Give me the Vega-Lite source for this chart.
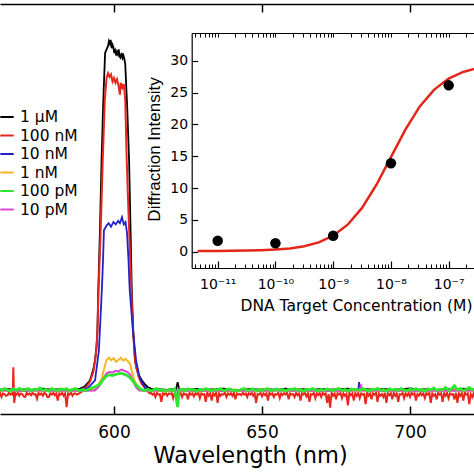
{
"$schema": "https://vega.github.io/schema/vega-lite/v6.json",
"width": 474, "height": 410,
"autosize": {"type": "none"},
"padding": {"left": 0, "top": 4, "right": 0, "bottom": 60},
"background": "white",
"config": {
  "view": {"stroke": null},
  "axis": {"grid": false, "domainColor": "#000", "tickColor": "#000", "labelColor": "#000", "titleColor": "#000", "labelFont": "DejaVu Sans", "titleFont": "DejaVu Sans", "titleFontWeight": "normal", "labelOverlap": false, "labelFlush": false}
},
"datasets": {
"k": [{"w":561.5,"v":0.12},{"w":564,"v":0.18},{"w":567,"v":0.08},{"w":570,"v":0.15},{"w":573,"v":0.1},{"w":576,"v":0.2},{"w":579,"v":0.12},{"w":582,"v":0.16},{"w":585,"v":0.1},{"w":587,"v":0.15},{"w":588.5,"v":0.2},{"w":590,"v":0.35},{"w":591.9,"v":0.9},{"w":593,"v":1.8},{"w":593.6,"v":2.6},{"w":594.1,"v":3.8},{"w":594.4,"v":5.1},{"w":594.7,"v":8.5},{"w":595.3,"v":13.9},{"w":595.8,"v":19.4},{"w":596.4,"v":24.5},{"w":597,"v":28.4},{"w":597.5,"v":28.7},{"w":598,"v":29.0},{"w":598.3,"v":29.4},{"w":598.6,"v":29.2},{"w":598.9,"v":29.5},{"w":599.2,"v":28.8},{"w":599.5,"v":29.1},{"w":599.8,"v":28.9},{"w":600.1,"v":28.4},{"w":600.4,"v":28.6},{"w":600.7,"v":28.2},{"w":601,"v":28.5},{"w":601.3,"v":28.3},{"w":601.6,"v":28.7},{"w":601.9,"v":28.1},{"w":602.2,"v":28.0},{"w":602.6,"v":28.4},{"w":602.9,"v":28.0},{"w":603.2,"v":28.2},{"w":603.5,"v":27.9},{"w":603.8,"v":27.5},{"w":604.5,"v":23.6},{"w":605.1,"v":19.4},{"w":605.6,"v":13.5},{"w":606,"v":8.5},{"w":606.5,"v":5.1},{"w":607.1,"v":2.6},{"w":607.7,"v":1.8},{"w":608.3,"v":1.4},{"w":609.4,"v":0.9},{"w":610.5,"v":0.55},{"w":611.5,"v":0.3},{"w":612.5,"v":0.2},{"w":615,"v":0.15},{"w":618,"v":0.1},{"w":621,"v":0.2},{"w":621.5,"v":0.75},{"w":622,"v":0.15},{"w":625,"v":0.12},{"w":628,"v":0.18},{"w":631,"v":0.1},{"w":634,"v":0.15},{"w":637,"v":0.2},{"w":640,"v":0.12},{"w":643,"v":0.1},{"w":646,"v":0.18},{"w":649,"v":0.12},{"w":652,"v":0.15},{"w":655,"v":0.1},{"w":658,"v":0.2},{"w":661,"v":0.12},{"w":664,"v":0.15},{"w":667,"v":0.1},{"w":670,"v":0.18},{"w":673,"v":0.12},{"w":676,"v":0.15},{"w":679,"v":0.2},{"w":682,"v":0.1},{"w":685,"v":0.15},{"w":688,"v":0.12},{"w":691,"v":0.18},{"w":694,"v":0.1},{"w":697,"v":0.15},{"w":700,"v":0.22},{"w":703,"v":0.12},{"w":706,"v":0.15},{"w":709,"v":0.1},{"w":712,"v":0.18},{"w":715,"v":0.12},{"w":718,"v":0.2},{"w":721.6,"v":0.12}],
"r": [{"w":561,"v":-0.3},{"w":561.5,"v":-0.15},{"w":562,"v":-0.5},{"w":562.5,"v":-0.2},{"w":563,"v":-0.25},{"w":563.5,"v":-0.4},{"w":564,"v":-0.35},{"w":564.5,"v":-0.15},{"w":565,"v":-0.3},{"w":565.5,"v":-0.2},{"w":565.8,"v":-0.3},{"w":566,"v":2.0},{"w":566.3,"v":-1.0},{"w":566.7,"v":-0.2},{"w":567,"v":-0.3},{"w":567.5,"v":-0.15},{"w":568,"v":-0.4},{"w":568.5,"v":-0.2},{"w":569,"v":-0.25},{"w":569.5,"v":-0.45},{"w":570,"v":-0.5},{"w":570.5,"v":-0.15},{"w":571,"v":-0.3},{"w":571.5,"v":-0.2},{"w":572,"v":-0.35},{"w":572.5,"v":-0.15},{"w":573,"v":-0.3},{"w":573.5,"v":-0.25},{"w":574,"v":-0.65},{"w":574.5,"v":-0.15},{"w":575,"v":-0.3},{"w":575.5,"v":-0.2},{"w":576,"v":-0.4},{"w":576.5,"v":-0.15},{"w":577,"v":-0.25},{"w":577.5,"v":-0.5},{"w":578,"v":-0.5},{"w":578.5,"v":-0.2},{"w":579,"v":-0.3},{"w":579.5,"v":-0.15},{"w":580,"v":-0.35},{"w":580.5,"v":-0.2},{"w":581,"v":-0.8},{"w":581.5,"v":-0.2},{"w":582,"v":-0.3},{"w":582.5,"v":-0.15},{"w":583,"v":-0.4},{"w":583.5,"v":-0.2},{"w":584,"v":-1.35},{"w":584.5,"v":-0.2},{"w":585,"v":-0.3},{"w":585.5,"v":-0.15},{"w":586,"v":-0.4},{"w":586.5,"v":-0.2},{"w":587,"v":-0.2},{"w":587.5,"v":-0.3},{"w":588.5,"v":-0.15},{"w":590,"v":0.1},{"w":591.9,"v":0.8},{"w":593,"v":1.6},{"w":593.6,"v":2.5},{"w":594.1,"v":3.6},{"w":594.4,"v":5.0},{"w":594.8,"v":8.5},{"w":595.5,"v":13.5},{"w":596.2,"v":19.4},{"w":596.9,"v":24.5},{"w":597.5,"v":26.3},{"w":598,"v":26.7},{"w":598.5,"v":26.4},{"w":599,"v":26.6},{"w":599.5,"v":26.0},{"w":600,"v":26.3},{"w":600.5,"v":25.9},{"w":601,"v":26.2},{"w":601.5,"v":25.7},{"w":602,"v":24.9},{"w":602.3,"v":25.9},{"w":602.8,"v":25.5},{"w":603.3,"v":25.8},{"w":603.8,"v":24.5},{"w":604.3,"v":19.4},{"w":604.9,"v":15},{"w":605.5,"v":11},{"w":606,"v":7.5},{"w":606.5,"v":4.8},{"w":607.1,"v":2.5},{"w":608.3,"v":1.2},{"w":609.4,"v":0.6},{"w":611,"v":0.1},{"w":612,"v":-0.2},{"w":612.5,"v":-0.15},{"w":613,"v":-0.3},{"w":613.5,"v":-0.2},{"w":614,"v":-0.5},{"w":614.5,"v":-0.15},{"w":615,"v":-0.3},{"w":615.5,"v":-0.25},{"w":616,"v":-0.9},{"w":616.5,"v":-0.2},{"w":617,"v":-0.3},{"w":617.5,"v":-0.15},{"w":618,"v":-0.4},{"w":618.5,"v":-0.2},{"w":619,"v":-0.25},{"w":619.5,"v":-0.18},{"w":620,"v":-0.6},{"w":620.5,"v":-0.15},{"w":621,"v":-0.3},{"w":621.5,"v":-0.2},{"w":622,"v":-0.35},{"w":622.5,"v":-0.15},{"w":623,"v":-0.5},{"w":623.5,"v":-0.2},{"w":624,"v":-0.3},{"w":624.5,"v":-0.25},{"w":625,"v":-0.7},{"w":625.5,"v":-0.15},{"w":626,"v":-0.3},{"w":626.5,"v":-0.2},{"w":627,"v":-0.45},{"w":627.5,"v":-0.18},{"w":628,"v":-0.3},{"w":628.5,"v":-0.15},{"w":629,"v":-0.6},{"w":629.5,"v":-0.2},{"w":630,"v":-0.3},{"w":630.5,"v":-0.25},{"w":631,"v":-0.9},{"w":631.5,"v":-0.15},{"w":632,"v":-0.4},{"w":632.5,"v":-0.2},{"w":633,"v":-0.8},{"w":633.5,"v":-0.18},{"w":634,"v":-0.35},{"w":634.5,"v":-0.15},{"w":635,"v":-1.0},{"w":635.5,"v":-0.2},{"w":636,"v":-0.4},{"w":636.5,"v":-0.25},{"w":637,"v":-0.3},{"w":637.5,"v":-0.15},{"w":638,"v":-0.5},{"w":638.5,"v":-0.2},{"w":639,"v":-0.3},{"w":639.5,"v":-0.18},{"w":640,"v":-0.4},{"w":640.5,"v":-0.15},{"w":641,"v":-0.7},{"w":641.5,"v":-0.2},{"w":642,"v":-0.3},{"w":642.5,"v":-0.25},{"w":643,"v":-0.35},{"w":643.5,"v":-0.15},{"w":644,"v":-0.3},{"w":644.5,"v":-0.2},{"w":645,"v":-0.5},{"w":645.5,"v":-0.18},{"w":646,"v":-0.3},{"w":646.5,"v":-0.15},{"w":647,"v":-0.4},{"w":647.5,"v":-0.2},{"w":648,"v":-1.0},{"w":648.5,"v":-0.25},{"w":649,"v":-0.3},{"w":649.5,"v":-0.15},{"w":650,"v":-0.45},{"w":650.5,"v":-0.2},{"w":651,"v":-0.35},{"w":651.5,"v":-0.18},{"w":652,"v":-0.8},{"w":652.5,"v":-0.15},{"w":653,"v":-0.3},{"w":653.5,"v":-0.2},{"w":654,"v":-0.5},{"w":654.5,"v":-0.25},{"w":655,"v":-0.3},{"w":655.5,"v":-0.15},{"w":656,"v":-0.6},{"w":656.5,"v":-0.2},{"w":657,"v":-0.35},{"w":657.5,"v":-0.18},{"w":658,"v":-0.3},{"w":658.5,"v":-0.15},{"w":659,"v":-0.7},{"w":659.5,"v":-0.2},{"w":660,"v":-0.3},{"w":660.5,"v":-0.25},{"w":661,"v":-0.5},{"w":661.5,"v":-0.15},{"w":662,"v":-0.35},{"w":662.5,"v":-0.2},{"w":663,"v":-0.8},{"w":663.5,"v":-0.18},{"w":664,"v":-0.3},{"w":664.5,"v":-0.15},{"w":665,"v":-0.45},{"w":665.5,"v":-0.2},{"w":666,"v":-0.9},{"w":666.5,"v":-0.25},{"w":667,"v":-0.3},{"w":667.5,"v":-0.15},{"w":668,"v":-0.6},{"w":668.5,"v":-0.2},{"w":669,"v":-0.35},{"w":669.5,"v":-0.18},{"w":670,"v":-0.5},{"w":670.5,"v":-0.15},{"w":671,"v":-0.3},{"w":671.5,"v":-0.2},{"w":672,"v":-1.0},{"w":672.5,"v":-0.25},{"w":673,"v":-1.4},{"w":673.5,"v":-0.15},{"w":674,"v":-0.4},{"w":674.5,"v":-0.2},{"w":675,"v":-0.7},{"w":675.5,"v":-0.18},{"w":676,"v":-0.3},{"w":676.5,"v":-0.15},{"w":677,"v":-0.6},{"w":677.5,"v":-0.2},{"w":678,"v":-0.4},{"w":678.5,"v":-0.25},{"w":679,"v":-1.2},{"w":679.5,"v":-0.15},{"w":680,"v":-0.35},{"w":680.5,"v":-0.2},{"w":681,"v":-0.8},{"w":681.5,"v":-0.18},{"w":682,"v":-0.4},{"w":682.5,"v":-0.15},{"w":683,"v":-0.6},{"w":683.5,"v":-0.2},{"w":684,"v":-0.3},{"w":684.5,"v":-0.25},{"w":685,"v":-1.1},{"w":685.5,"v":-0.15},{"w":686,"v":-0.4},{"w":686.5,"v":-0.2},{"w":687,"v":-0.7},{"w":687.5,"v":-0.18},{"w":688,"v":-0.3},{"w":688.5,"v":-0.15},{"w":689,"v":-0.9},{"w":689.5,"v":-0.2},{"w":690,"v":-0.4},{"w":690.5,"v":-0.25},{"w":691,"v":-0.5},{"w":691.5,"v":-0.15},{"w":692,"v":-1.0},{"w":692.5,"v":-0.2},{"w":693,"v":-0.35},{"w":693.5,"v":-0.18},{"w":694,"v":-0.7},{"w":694.5,"v":-0.15},{"w":695,"v":-0.4},{"w":695.5,"v":-0.2},{"w":696,"v":-0.9},{"w":696.5,"v":-0.25},{"w":697,"v":-0.3},{"w":697.5,"v":-0.15},{"w":698,"v":-0.6},{"w":698.5,"v":-0.2},{"w":699,"v":-0.4},{"w":699.5,"v":-0.18},{"w":700,"v":-0.5},{"w":700.5,"v":-0.15},{"w":701,"v":-0.3},{"w":701.5,"v":-0.2},{"w":702,"v":-0.8},{"w":702.5,"v":-0.25},{"w":703,"v":-0.4},{"w":703.5,"v":-0.15},{"w":704,"v":-0.35},{"w":704.5,"v":-0.2},{"w":705,"v":-0.6},{"w":705.5,"v":-0.18},{"w":706,"v":-0.3},{"w":706.5,"v":-0.15},{"w":707,"v":-1.0},{"w":707.5,"v":-0.2},{"w":708,"v":-0.4},{"w":708.5,"v":-0.25},{"w":709,"v":-0.7},{"w":709.5,"v":-0.15},{"w":710,"v":-0.3},{"w":710.5,"v":-0.2},{"w":711,"v":-0.9},{"w":711.5,"v":-0.18},{"w":712,"v":-0.4},{"w":712.5,"v":-0.15},{"w":713,"v":-0.6},{"w":713.5,"v":-0.2},{"w":714,"v":-0.3},{"w":714.5,"v":-0.25},{"w":715,"v":-0.7},{"w":715.5,"v":-0.15},{"w":716,"v":-1.0},{"w":716.5,"v":-0.2},{"w":717,"v":-0.4},{"w":717.5,"v":-0.18},{"w":718,"v":-0.8},{"w":718.5,"v":-0.15},{"w":719,"v":-0.3},{"w":719.5,"v":-0.2},{"w":720,"v":-1.1},{"w":720.5,"v":-0.25},{"w":721,"v":-0.5},{"w":721.5,"v":-0.15},{"w":722,"v":-0.7}],
"b": [{"w":561.5,"v":0.05},{"w":565,"v":0.1},{"w":569,"v":0.0},{"w":573,"v":0.08},{"w":577,"v":0.05},{"w":581,"v":0.1},{"w":585,"v":0.02},{"w":589,"v":0.05},{"w":591,"v":0.2},{"w":593.6,"v":0.9},{"w":594.9,"v":3.4},{"w":595.9,"v":8.5},{"w":596.3,"v":11.0},{"w":596.6,"v":13.5},{"w":597.5,"v":13.9},{"w":598.2,"v":14.1},{"w":599,"v":13.8},{"w":599.8,"v":14.2},{"w":600.6,"v":14.0},{"w":601.4,"v":14.3},{"w":602,"v":14.1},{"w":602.7,"v":14.6},{"w":603.3,"v":14.0},{"w":603.9,"v":14.2},{"w":604.4,"v":13.3},{"w":604.9,"v":11.0},{"w":605.3,"v":8.5},{"w":606.4,"v":5.1},{"w":607.5,"v":2.5},{"w":608.8,"v":1.0},{"w":610.5,"v":0.3},{"w":612.5,"v":0.05},{"w":616,"v":0.08},{"w":620,"v":0.05},{"w":624,"v":0.1},{"w":628,"v":0.02},{"w":632,"v":0.08},{"w":636,"v":0.05},{"w":640,"v":0.1},{"w":644,"v":0.05},{"w":648,"v":0.08},{"w":652,"v":0.02},{"w":656,"v":0.1},{"w":660,"v":0.05},{"w":664,"v":0.08},{"w":668,"v":0.05},{"w":672,"v":0.1},{"w":676,"v":0.02},{"w":680,"v":0.08},{"w":682.5,"v":0.1},{"w":682.8,"v":0.75},{"w":683.1,"v":0.1},{"w":686,"v":0.05},{"w":690,"v":0.08},{"w":694,"v":0.05},{"w":698,"v":0.1},{"w":702,"v":0.02},{"w":706,"v":0.08},{"w":710,"v":0.05},{"w":714,"v":0.1},{"w":718,"v":0.05},{"w":722,"v":0.08}],
"y": [{"w":561.5,"v":0.05},{"w":566,"v":0.0},{"w":571,"v":0.08},{"w":576,"v":0.02},{"w":581,"v":0.05},{"w":586,"v":0.0},{"w":590,"v":0.05},{"w":593.6,"v":0.1},{"w":594.6,"v":0.5},{"w":595.8,"v":1.0},{"w":596.7,"v":1.9},{"w":597.5,"v":2.6},{"w":598.3,"v":2.8},{"w":599.1,"v":2.6},{"w":599.9,"v":2.75},{"w":600.7,"v":2.45},{"w":601.5,"v":2.6},{"w":602.3,"v":2.8},{"w":603.1,"v":2.55},{"w":603.9,"v":2.7},{"w":604.7,"v":2.5},{"w":605.4,"v":2.3},{"w":606.3,"v":1.4},{"w":607.1,"v":0.8},{"w":607.7,"v":0.5},{"w":608.8,"v":0.1},{"w":610,"v":0.02},{"w":615,"v":0.05},{"w":620,"v":0.0},{"w":625,"v":0.06},{"w":630,"v":0.02},{"w":635,"v":0.05},{"w":640,"v":0.0},{"w":645,"v":0.05},{"w":650,"v":0.02},{"w":655,"v":0.06},{"w":660,"v":0.0},{"w":665,"v":0.05},{"w":670,"v":0.02},{"w":675,"v":0.05},{"w":680,"v":0.0},{"w":685,"v":0.06},{"w":690,"v":0.02},{"w":695,"v":0.05},{"w":700,"v":0.0},{"w":705,"v":0.05},{"w":710,"v":0.02},{"w":715,"v":0.06},{"w":722,"v":0.02}],
"p": [{"w":561.5,"v":0.05},{"w":567,"v":0.02},{"w":573,"v":0.06},{"w":579,"v":0.02},{"w":585,"v":0.05},{"w":590,"v":0.02},{"w":593.6,"v":0.05},{"w":595,"v":0.4},{"w":596.5,"v":1.1},{"w":597.5,"v":1.5},{"w":598.5,"v":1.6},{"w":599.5,"v":1.55},{"w":600.5,"v":1.7},{"w":601.5,"v":1.65},{"w":602.5,"v":1.8},{"w":603.5,"v":1.7},{"w":604.5,"v":1.6},{"w":605.4,"v":1.4},{"w":606.5,"v":0.8},{"w":607.5,"v":0.3},{"w":608.5,"v":0.05},{"w":612,"v":0.02},{"w":618,"v":0.06},{"w":624,"v":0.02},{"w":630,"v":0.05},{"w":636,"v":0.0},{"w":642,"v":0.05},{"w":648,"v":0.02},{"w":654,"v":0.06},{"w":660,"v":0.02},{"w":666,"v":0.05},{"w":672,"v":0.0},{"w":678,"v":0.05},{"w":683,"v":0.05},{"w":683.4,"v":0.55},{"w":683.8,"v":0.05},{"w":690,"v":0.02},{"w":696,"v":0.05},{"w":702,"v":0.0},{"w":708,"v":0.05},{"w":714,"v":0.02},{"w":722,"v":0.05}],
"g": [{"w":561,"v":0.15},{"w":562,"v":0.05},{"w":563,"v":0.2},{"w":564,"v":0.1},{"w":565,"v":0.0},{"w":566,"v":0.18},{"w":567,"v":0.08},{"w":568,"v":0.22},{"w":569,"v":0.05},{"w":570,"v":0.12},{"w":571,"v":0.2},{"w":572,"v":0.02},{"w":573,"v":0.15},{"w":574,"v":0.1},{"w":575,"v":0.25},{"w":576,"v":0.05},{"w":577,"v":0.15},{"w":578,"v":0.0},{"w":579,"v":0.2},{"w":580,"v":0.1},{"w":581,"v":0.05},{"w":582,"v":0.18},{"w":583,"v":0.08},{"w":584,"v":0.2},{"w":585,"v":0.0},{"w":586,"v":0.12},{"w":587,"v":0.2},{"w":588,"v":0.05},{"w":589,"v":0.1},{"w":590,"v":0.05},{"w":591,"v":0.1},{"w":592,"v":0.2},{"w":593,"v":0.3},{"w":594,"v":0.4},{"w":595.3,"v":0.6},{"w":596.5,"v":1.0},{"w":597.5,"v":1.3},{"w":598.5,"v":1.35},{"w":599.5,"v":1.3},{"w":600.5,"v":1.4},{"w":601.5,"v":1.45},{"w":602.5,"v":1.5},{"w":603.5,"v":1.4},{"w":604.5,"v":1.3},{"w":605.5,"v":1.1},{"w":606.5,"v":0.8},{"w":607.5,"v":0.5},{"w":608.5,"v":0.25},{"w":609.5,"v":0.1},{"w":610.5,"v":0.05},{"w":611.5,"v":0.15},{"w":612.5,"v":0.0},{"w":613.5,"v":0.12},{"w":614.5,"v":0.2},{"w":615.5,"v":0.05},{"w":616.5,"v":0.1},{"w":617.5,"v":-0.05},{"w":618.5,"v":0.15},{"w":619.5,"v":0.05},{"w":620.5,"v":0.2},{"w":621.5,"v":-1.35},{"w":622,"v":0.1},{"w":623,"v":0.15},{"w":624,"v":0.0},{"w":625,"v":0.18},{"w":626,"v":0.08},{"w":627,"v":0.12},{"w":628,"v":-0.02},{"w":629,"v":0.15},{"w":630,"v":0.05},{"w":631,"v":0.2},{"w":632,"v":0.1},{"w":633,"v":0.0},{"w":634,"v":0.15},{"w":635,"v":0.08},{"w":636,"v":0.2},{"w":637,"v":0.02},{"w":638,"v":0.12},{"w":639,"v":0.18},{"w":640,"v":0.05},{"w":641,"v":0.1},{"w":642,"v":0.0},{"w":643,"v":0.15},{"w":644,"v":0.22},{"w":645,"v":0.05},{"w":646,"v":0.1},{"w":647,"v":0.18},{"w":648,"v":0.0},{"w":649,"v":0.12},{"w":650,"v":0.05},{"w":651,"v":0.15},{"w":652,"v":0.2},{"w":653,"v":0.02},{"w":654,"v":0.1},{"w":655,"v":0.18},{"w":656,"v":0.05},{"w":657,"v":0.12},{"w":658,"v":0.0},{"w":659,"v":0.15},{"w":660,"v":0.1},{"w":661,"v":0.2},{"w":662,"v":0.05},{"w":663,"v":0.12},{"w":664,"v":-0.02},{"w":665,"v":0.15},{"w":666,"v":0.08},{"w":667,"v":0.2},{"w":668,"v":0.1},{"w":669,"v":0.0},{"w":670,"v":0.15},{"w":671,"v":0.05},{"w":672,"v":0.18},{"w":673,"v":0.1},{"w":674,"v":0.02},{"w":675,"v":0.15},{"w":676,"v":0.22},{"w":677,"v":0.05},{"w":678,"v":0.12},{"w":679,"v":0.0},{"w":680,"v":0.18},{"w":681,"v":0.08},{"w":682,"v":0.15},{"w":683,"v":0.05},{"w":684,"v":0.2},{"w":685,"v":0.1},{"w":686,"v":0.0},{"w":687,"v":0.15},{"w":688,"v":0.1},{"w":689,"v":0.22},{"w":690,"v":0.05},{"w":691,"v":0.12},{"w":692,"v":0.0},{"w":693,"v":0.18},{"w":694,"v":0.08},{"w":695,"v":0.15},{"w":696,"v":0.05},{"w":697,"v":0.2},{"w":698,"v":0.1},{"w":699,"v":0.02},{"w":700,"v":0.15},{"w":701,"v":0.08},{"w":702,"v":0.2},{"w":703,"v":0.05},{"w":704,"v":0.12},{"w":705,"v":0.0},{"w":706,"v":0.18},{"w":707,"v":0.1},{"w":708,"v":0.25},{"w":709,"v":0.05},{"w":710,"v":0.15},{"w":711,"v":0.1},{"w":712,"v":0.3},{"w":713,"v":0.05},{"w":714,"v":0.2},{"w":715,"v":0.45},{"w":716,"v":0.1},{"w":717,"v":0.2},{"w":718,"v":0.05},{"w":719,"v":0.15},{"w":720,"v":0.3},{"w":721,"v":0.1},{"w":722,"v":0.2}],
"fit": [{"c":4.5e-12,"v":0.11},{"c":5.62e-12,"v":0.111},{"c":1e-11,"v":0.121},{"c":1.78e-11,"v":0.138},{"c":3.16e-11,"v":0.17},{"c":5.62e-11,"v":0.227},{"c":1e-10,"v":0.33},{"c":1.78e-10,"v":0.52},{"c":3.16e-10,"v":0.86},{"c":5.62e-10,"v":1.47},{"c":1e-9,"v":2.51},{"c":1.78e-9,"v":4.24},{"c":3.16e-9,"v":6.88},{"c":5.62e-9,"v":10.52},{"c":1e-8,"v":14.85},{"c":1.78e-8,"v":19.18},{"c":3.16e-8,"v":22.82},{"c":5.62e-8,"v":25.46},{"c":1e-7,"v":27.19},{"c":1.78e-7,"v":28.23},{"c":3.16e-7,"v":28.84},{"c":5.62e-7,"v":29.18},{"c":1e-6,"v":29.37},{"c":3.16e-6,"v":29.53}],
"pts": [{"c":1e-11,"v":1.73},{"c":1e-10,"v":1.32},{"c":1e-9,"v":2.51},{"c":1e-8,"v":13.88},{"c":1e-7,"v":26.13},{"c":1e-6,"v":28.9}]
},
"layer": [
{
 "layer": [
  {"data": {"name": "k"}, "mark": {"type": "line", "strokeWidth": 1.8},
   "encoding": {
    "x": {"field": "w", "type": "quantitative", "scale": {"domain": [561.5, 721.6], "nice": false, "zero": false},
          "axis": {"orient": "bottom", "values": [600, 650, 700], "tickSize": -8, "labelPadding": 18, "labelFontSize": 17, "title": "Wavelength (nm)", "titleFontSize": 22.5, "titleX": 250, "titleY": 48, "titleBaseline": "alphabetic", "titleAlign": "center", "domainWidth": 1.5, "tickWidth": 1.5}},
    "y": {"field": "v", "type": "quantitative", "scale": {"domain": [-1.93, 32.52], "nice": false, "zero": false}, "axis": null},
    "color": {"datum": "1 μM",
      "scale": {"domain": ["1 μM", "100 nM", "10 nM", "1 nM", "100 pM", "10 pM"], "range": ["#000000", "#e8281e", "#2222cc", "#f5b526", "#2ee62e", "#e044d4"]},
      "legend": {"orient": "none", "legendX": -1, "legendY": 105, "title": null, "symbolType": "stroke", "symbolStrokeWidth": 2, "symbolSize": 180, "labelFontSize": 15.5, "labelFont": "DejaVu Sans", "labelColor": "#000", "labelOffset": 5, "rowPadding": 1.5, "padding": 0}}
   }},
  {"data": {"name": "r"}, "mark": {"type": "line", "strokeWidth": 2},
   "encoding": {
    "x": {"field": "w", "type": "quantitative", "scale": {"domain": [561.5, 721.6], "nice": false, "zero": false}, "axis": null},
    "y": {"field": "v", "type": "quantitative", "scale": {"domain": [-1.93, 32.52], "nice": false, "zero": false}, "axis": null},
    "color": {"datum": "100 nM"}}},
  {"data": {"name": "b"}, "mark": {"type": "line", "strokeWidth": 1.8},
   "encoding": {
    "x": {"field": "w", "type": "quantitative", "scale": {"domain": [561.5, 721.6], "nice": false, "zero": false}, "axis": null},
    "y": {"field": "v", "type": "quantitative", "scale": {"domain": [-1.93, 32.52], "nice": false, "zero": false}, "axis": null},
    "color": {"datum": "10 nM"}}},
  {"data": {"name": "y"}, "mark": {"type": "line", "strokeWidth": 2},
   "encoding": {
    "x": {"field": "w", "type": "quantitative", "scale": {"domain": [561.5, 721.6], "nice": false, "zero": false}, "axis": null},
    "y": {"field": "v", "type": "quantitative", "scale": {"domain": [-1.93, 32.52], "nice": false, "zero": false}, "axis": null},
    "color": {"datum": "1 nM"}}},
  {"data": {"name": "p"}, "mark": {"type": "line", "strokeWidth": 2},
   "encoding": {
    "x": {"field": "w", "type": "quantitative", "scale": {"domain": [561.5, 721.6], "nice": false, "zero": false}, "axis": null},
    "y": {"field": "v", "type": "quantitative", "scale": {"domain": [-1.93, 32.52], "nice": false, "zero": false}, "axis": null},
    "color": {"datum": "10 pM"}}},
  {"data": {"name": "g"}, "mark": {"type": "line", "strokeWidth": 2.8},
   "encoding": {
    "x": {"field": "w", "type": "quantitative", "scale": {"domain": [561.5, 721.6], "nice": false, "zero": false}, "axis": null},
    "y": {"field": "v", "type": "quantitative", "scale": {"domain": [-1.93, 32.52], "nice": false, "zero": false}, "axis": null},
    "color": {"datum": "100 pM"}}},
  {"data": {"name": "k"}, "mark": {"type": "point", "opacity": 0},
   "encoding": {
    "x": {"field": "w", "type": "quantitative", "scale": {"domain": [561.5, 721.6], "nice": false, "zero": false},
          "axis": {"orient": "top", "values": [600, 650, 700], "tickSize": -8, "labels": false, "title": null, "domainWidth": 1.5, "tickWidth": 1.5}},
    "y": {"field": "v", "type": "quantitative", "scale": {"domain": [-1.93, 32.52], "nice": false, "zero": false}, "axis": null}}}
 ],
 "resolve": {"axis": {"x": "independent", "y": "independent"}}
},
{
 "layer": [
  {"data": {"name": "fit"}, "mark": {"type": "line", "color": "#e3261a", "strokeWidth": 2.5},
   "encoding": {
    "x": {"field": "c", "type": "quantitative", "scale": {"type": "log", "domain": [3.548e-12, 3.162e-6], "range": [191.7, 535.3], "nice": false},
          "axis": {"orient": "bottom", "offset": -146, "values": [1e-11, 1e-10, 1e-9, 1e-8, 1e-7, 1e-6], "tickSize": -7, "labelPadding": 16, "labelFontSize": 14,
                   "labelExpr": "datum.value < 3e-11 ? '10⁻¹¹' : datum.value < 3e-10 ? '10⁻¹⁰' : datum.value < 3e-9 ? '10⁻⁹' : datum.value < 3e-8 ? '10⁻⁸' : datum.value < 3e-7 ? '10⁻⁷' : '10⁻⁶'",
                   "title": "DNA Target Concentration  (M)", "titleFontSize": 15.5, "titleX": 240, "titleY": 42, "titleAlign": "left", "titleBaseline": "alphabetic", "domainWidth": 1.2, "tickWidth": 1.2}},
    "y": {"field": "v", "type": "quantitative", "scale": {"domain": [-2.56, 34.35], "range": [264, 29], "nice": false, "zero": false},
          "axis": {"orient": "left", "offset": -191.7, "values": [0, 5, 10, 15, 20, 25, 30], "tickSize": -6, "labelPadding": 10, "labelFontSize": 14,
                   "title": "Diffraction Intensity", "titleFont": "Liberation Sans", "titleFontSize": 17, "titleX": -32, "titleY": 145, "titleBaseline": "alphabetic", "titleAngle": 270, "titleAlign": "center", "domainWidth": 1.2, "tickWidth": 1.2}}}},
  {"data": {"name": "pts"}, "mark": {"type": "circle", "color": "#000", "size": 110, "opacity": 1},
   "encoding": {
    "x": {"field": "c", "type": "quantitative", "scale": {"type": "log", "domain": [3.548e-12, 3.162e-6], "range": [191.7, 535.3], "nice": false},
          "axis": {"orient": "bottom", "offset": -146, "values": [4e-12,5e-12,6e-12,7e-12,8e-12,9e-12,2e-11,3e-11,4e-11,5e-11,6e-11,7e-11,8e-11,9e-11,2e-10,3e-10,4e-10,5e-10,6e-10,7e-10,8e-10,9e-10,2e-9,3e-9,4e-9,5e-9,6e-9,7e-9,8e-9,9e-9,2e-8,3e-8,4e-8,5e-8,6e-8,7e-8,8e-8,9e-8,2e-7,3e-7,4e-7,5e-7,6e-7,7e-7,8e-7,9e-7,2e-6,3e-6], "tickSize": -4, "labels": false, "domain": false, "title": null, "tickWidth": 1}},
    "y": {"field": "v", "type": "quantitative", "scale": {"domain": [-2.56, 34.35], "range": [264, 29], "nice": false, "zero": false}, "axis": null}}},
  {"data": {"name": "pts"}, "mark": {"type": "circle", "opacity": 0},
   "encoding": {
    "x": {"field": "c", "type": "quantitative", "scale": {"type": "log", "domain": [3.548e-12, 3.162e-6], "range": [191.7, 535.3], "nice": false},
          "axis": {"orient": "top", "offset": -29, "values": [4e-12,5e-12,6e-12,7e-12,8e-12,9e-12,1e-11,2e-11,3e-11,4e-11,5e-11,6e-11,7e-11,8e-11,9e-11,1e-10,2e-10,3e-10,4e-10,5e-10,6e-10,7e-10,8e-10,9e-10,1e-9,2e-9,3e-9,4e-9,5e-9,6e-9,7e-9,8e-9,9e-9,1e-8,2e-8,3e-8,4e-8,5e-8,6e-8,7e-8,8e-8,9e-8,1e-7,2e-7,3e-7,4e-7,5e-7,6e-7,7e-7,8e-7,9e-7,1e-6,2e-6,3e-6], "tickSize": -4, "labels": false, "title": null, "domainWidth": 1.2, "tickWidth": 1}},
    "y": {"field": "v", "type": "quantitative", "scale": {"domain": [-2.56, 34.35], "range": [264, 29], "nice": false, "zero": false}, "axis": null}}}
 ],
 "resolve": {"axis": {"x": "independent", "y": "independent"}}
}
],
"resolve": {"scale": {"x": "independent", "y": "independent"}, "axis": {"x": "independent", "y": "independent"}}
}
